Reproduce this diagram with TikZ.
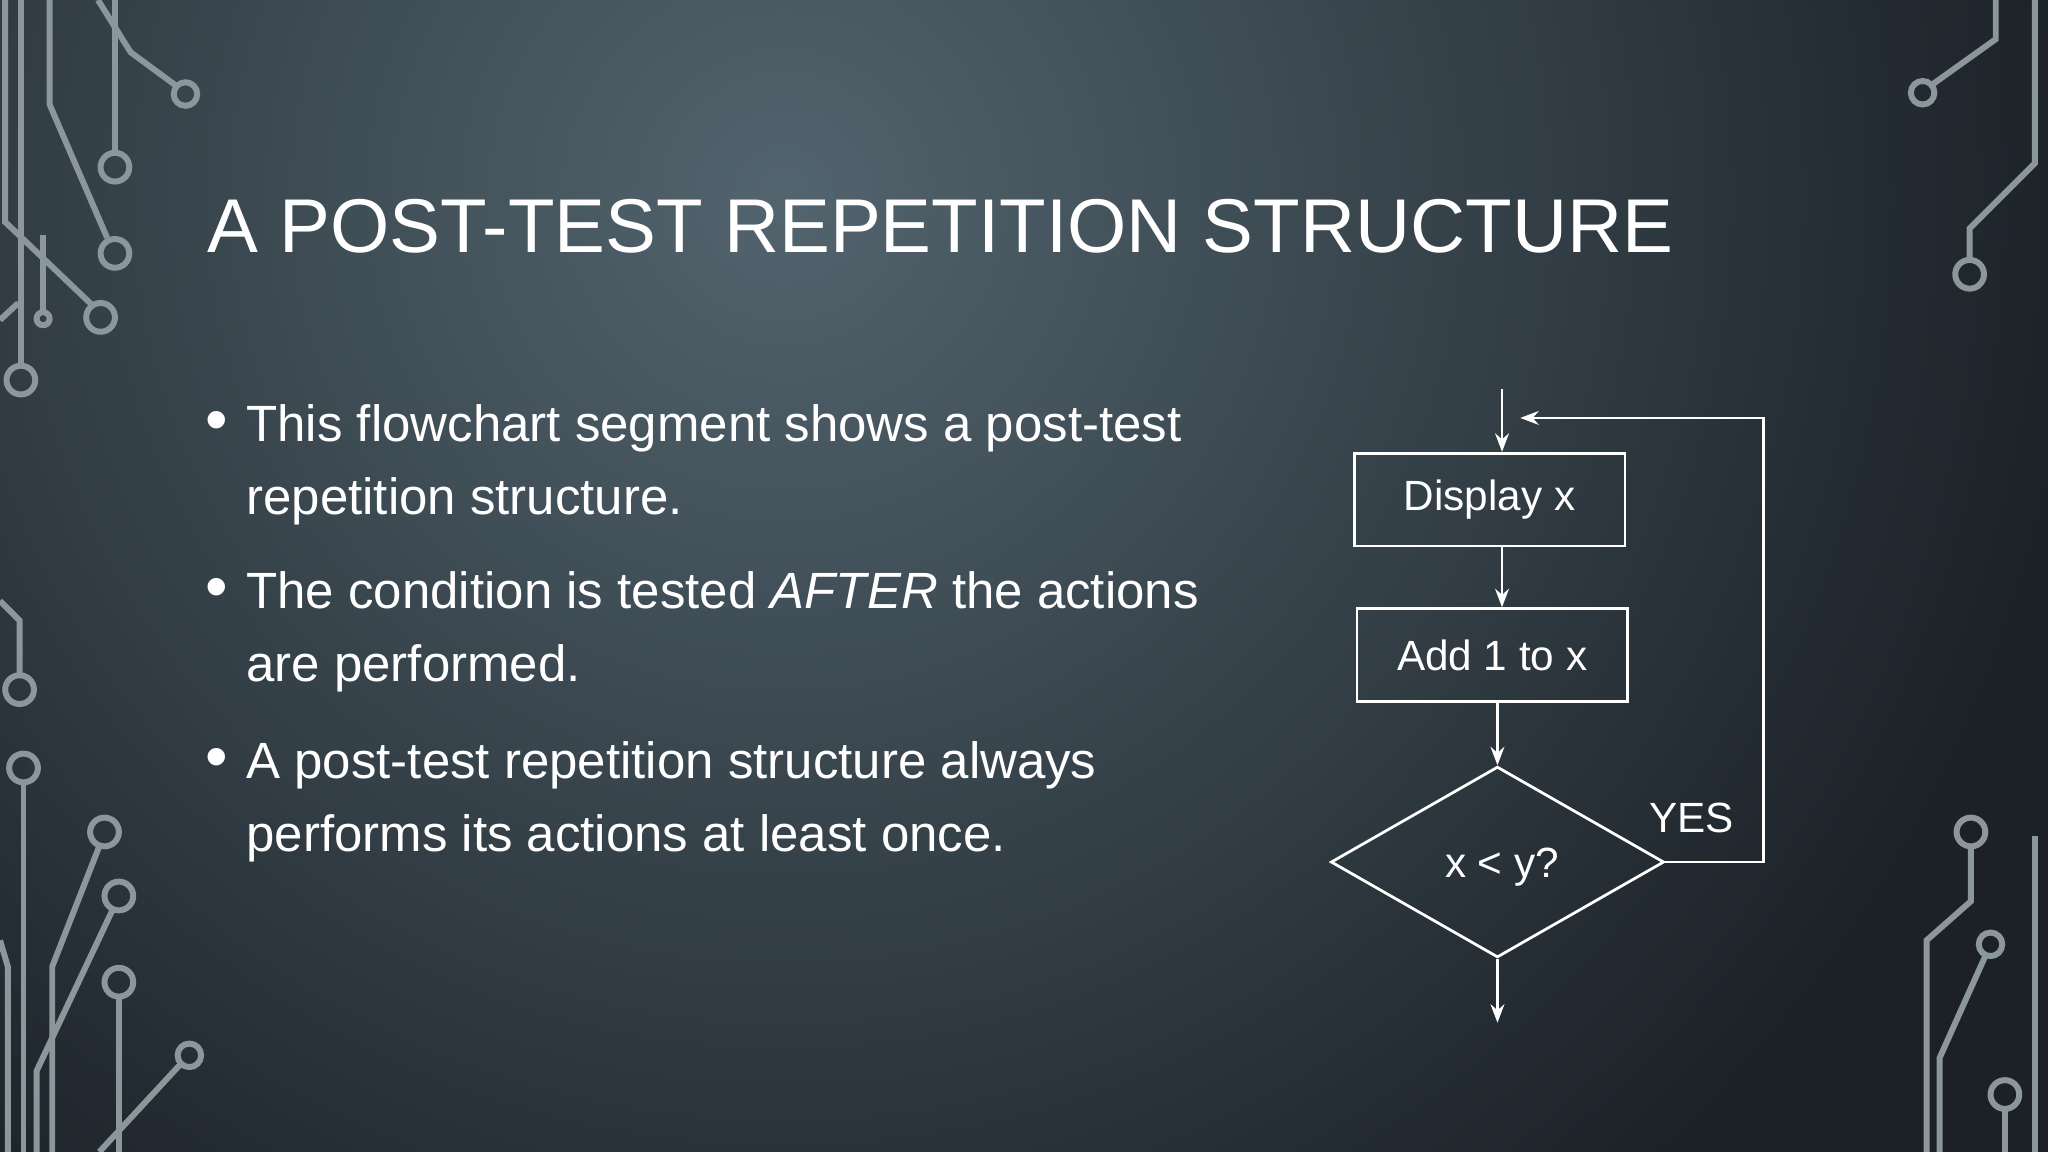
\documentclass[tikz,border=0pt]{standalone}
\usepackage{fontspec}
\setmainfont{Liberation Sans}
\usetikzlibrary{shapes.geometric,arrows.meta}
\definecolor{bgdark}{HTML}{1B2127}
\definecolor{bglight}{HTML}{52646E}
\definecolor{circ}{HTML}{8C979C}
\tikzset{
  box/.style={draw=white,line width=0.6pt,minimum width=2.07cm,minimum height=0.71cm,text=white,font=\fontsize{9.2}{10}\selectfont},
  dec/.style={draw=white,line width=0.6pt,diamond,aspect=1.75,minimum width=2.55cm,minimum height=1.46cm,inner sep=0pt,text=white,font=\fontsize{9.2}{10}\selectfont},
  flow/.style={draw=white,line width=0.6pt,-{Stealth[length=4pt,width=3pt]}},
  trace/.style={draw=circ,line width=1.3pt},
  pad/.style={draw=circ,line width=1.3pt},
  bul/.style={anchor=base west,text=white,font=\fontsize{11.1}{13}\selectfont,inner sep=0pt},
  dot/.style={anchor=base west,text=white,font=\fontsize{14}{13}\selectfont,inner sep=0pt},
}
\begin{document}
\begin{tikzpicture}[x=0.01cm,y=-0.01cm]
\useasboundingbox (0,0) rectangle (1568,882);
\fill[bgdark] (0,0) rectangle (1568,882);
\begin{scope}
\clip (0,0) rectangle (1568,882);
\shade[inner color=bglight,outer color=bgdark] (600,150) circle (1000);
\end{scope}
% circuit decorations
\draw[trace] (16,0)--(16,280); \draw[pad] (16,291) circle (11);
\draw[trace] (38,0)--(38,80)--(82,182); \draw[pad] (88,194) circle (11);
\draw[trace] (75,0)--(100,40)--(134,65); \draw[pad] (142,72) circle (9);
\draw[trace] (88,0)--(88,117); \draw[pad] (88,128) circle (11);
\draw[trace] (4,0)--(4,170)--(70,233); \draw[pad] (77,243) circle (11);
\draw[trace] (33,180)--(33,239); \draw[pad] (33,244) circle (5);
\draw[trace] (0,245)--(14,232);
\draw[trace] (0,460)--(15,475)--(15,517); \draw[pad] (15,528) circle (11);
\draw[trace] (18,599)--(18,882); \draw[pad] (18,588) circle (11);
\draw[trace] (76,648)--(40,740)--(40,882); \draw[pad] (80,637) circle (11);
\draw[trace] (86,697)--(28,820)--(28,882); \draw[pad] (91,686) circle (11);
\draw[trace] (91,763)--(91,882); \draw[pad] (91,752) circle (11);
\draw[trace] (138,815)--(76,882); \draw[pad] (145,808) circle (9);
\draw[trace] (0,720)--(6,740)--(6,882);
\draw[trace] (1528,0)--(1528,30)--(1479,65); \draw[pad] (1472,71) circle (9);
\draw[trace] (1558,0)--(1558,125)--(1508,175)--(1508,199); \draw[pad] (1508,210) circle (11);
\draw[trace] (1509,648)--(1509,690)--(1475,720)--(1475,882); \draw[pad] (1509,637) circle (11);
\draw[trace] (1520,732)--(1485,810)--(1485,882); \draw[pad] (1524,723) circle (9);
\draw[trace] (1535,849)--(1535,882); \draw[pad] (1535,838) circle (11);
\draw[trace] (1558,640)--(1558,882);
% title
\node[anchor=base west,text=white,font=\fontsize{16.6}{20}\selectfont,inner sep=0pt] (title) at (158,193) {A POST-TEST REPETITION STRUCTURE};
% bullets
\foreach \y/\n in {338/b1,466/b2,596/b3}{\node[dot] (\n) at (157,\y) {•};}
\node[bul] (t1) at (188,338) {This flowchart segment shows a post-test};
\node[bul] (t1b) at (188,394) {repetition structure.};
\node[bul] (t2) at (188,466) {The condition is tested \textit{AFTER} the actions};
\node[bul] (t2b) at (188,522) {are performed.};
\node[bul] (t3) at (188,596) {A post-test repetition structure always};
\node[bul] (t3b) at (188,652) {performs its actions at least once.};
% flowchart
\node[box] (disp) at (1140.5,382.5) {Display x};
\node[box] (add) at (1142.5,501.5) {Add 1 to x};
\node[dec] (cond) at (1146.5,660) {};
\node[text=white,font=\fontsize{9.2}{10}\selectfont] (condt) at (1150,664) {x < y?};
\coordinate (in) at (1150,298);
\coordinate (out) at (1146.5,783);
\coordinate (r) at (1350,660);
\coordinate (rt) at (1350,320);
\coordinate (lt) at (1164,320);
\draw[flow] (in) -- (in|-disp.north);
\draw[flow] (disp.south-|in) -- (in|-add.north);
\draw[flow] (add.south-|cond) -- (cond.north);
\draw[flow] (cond.south) -- (out);
\draw[flow] (cond.east) -- (r) -- (rt) -- (lt);
\node[text=white,font=\fontsize{9.2}{10}\selectfont] (yes) at (1295,626) {YES};
\end{tikzpicture}
\end{document}
